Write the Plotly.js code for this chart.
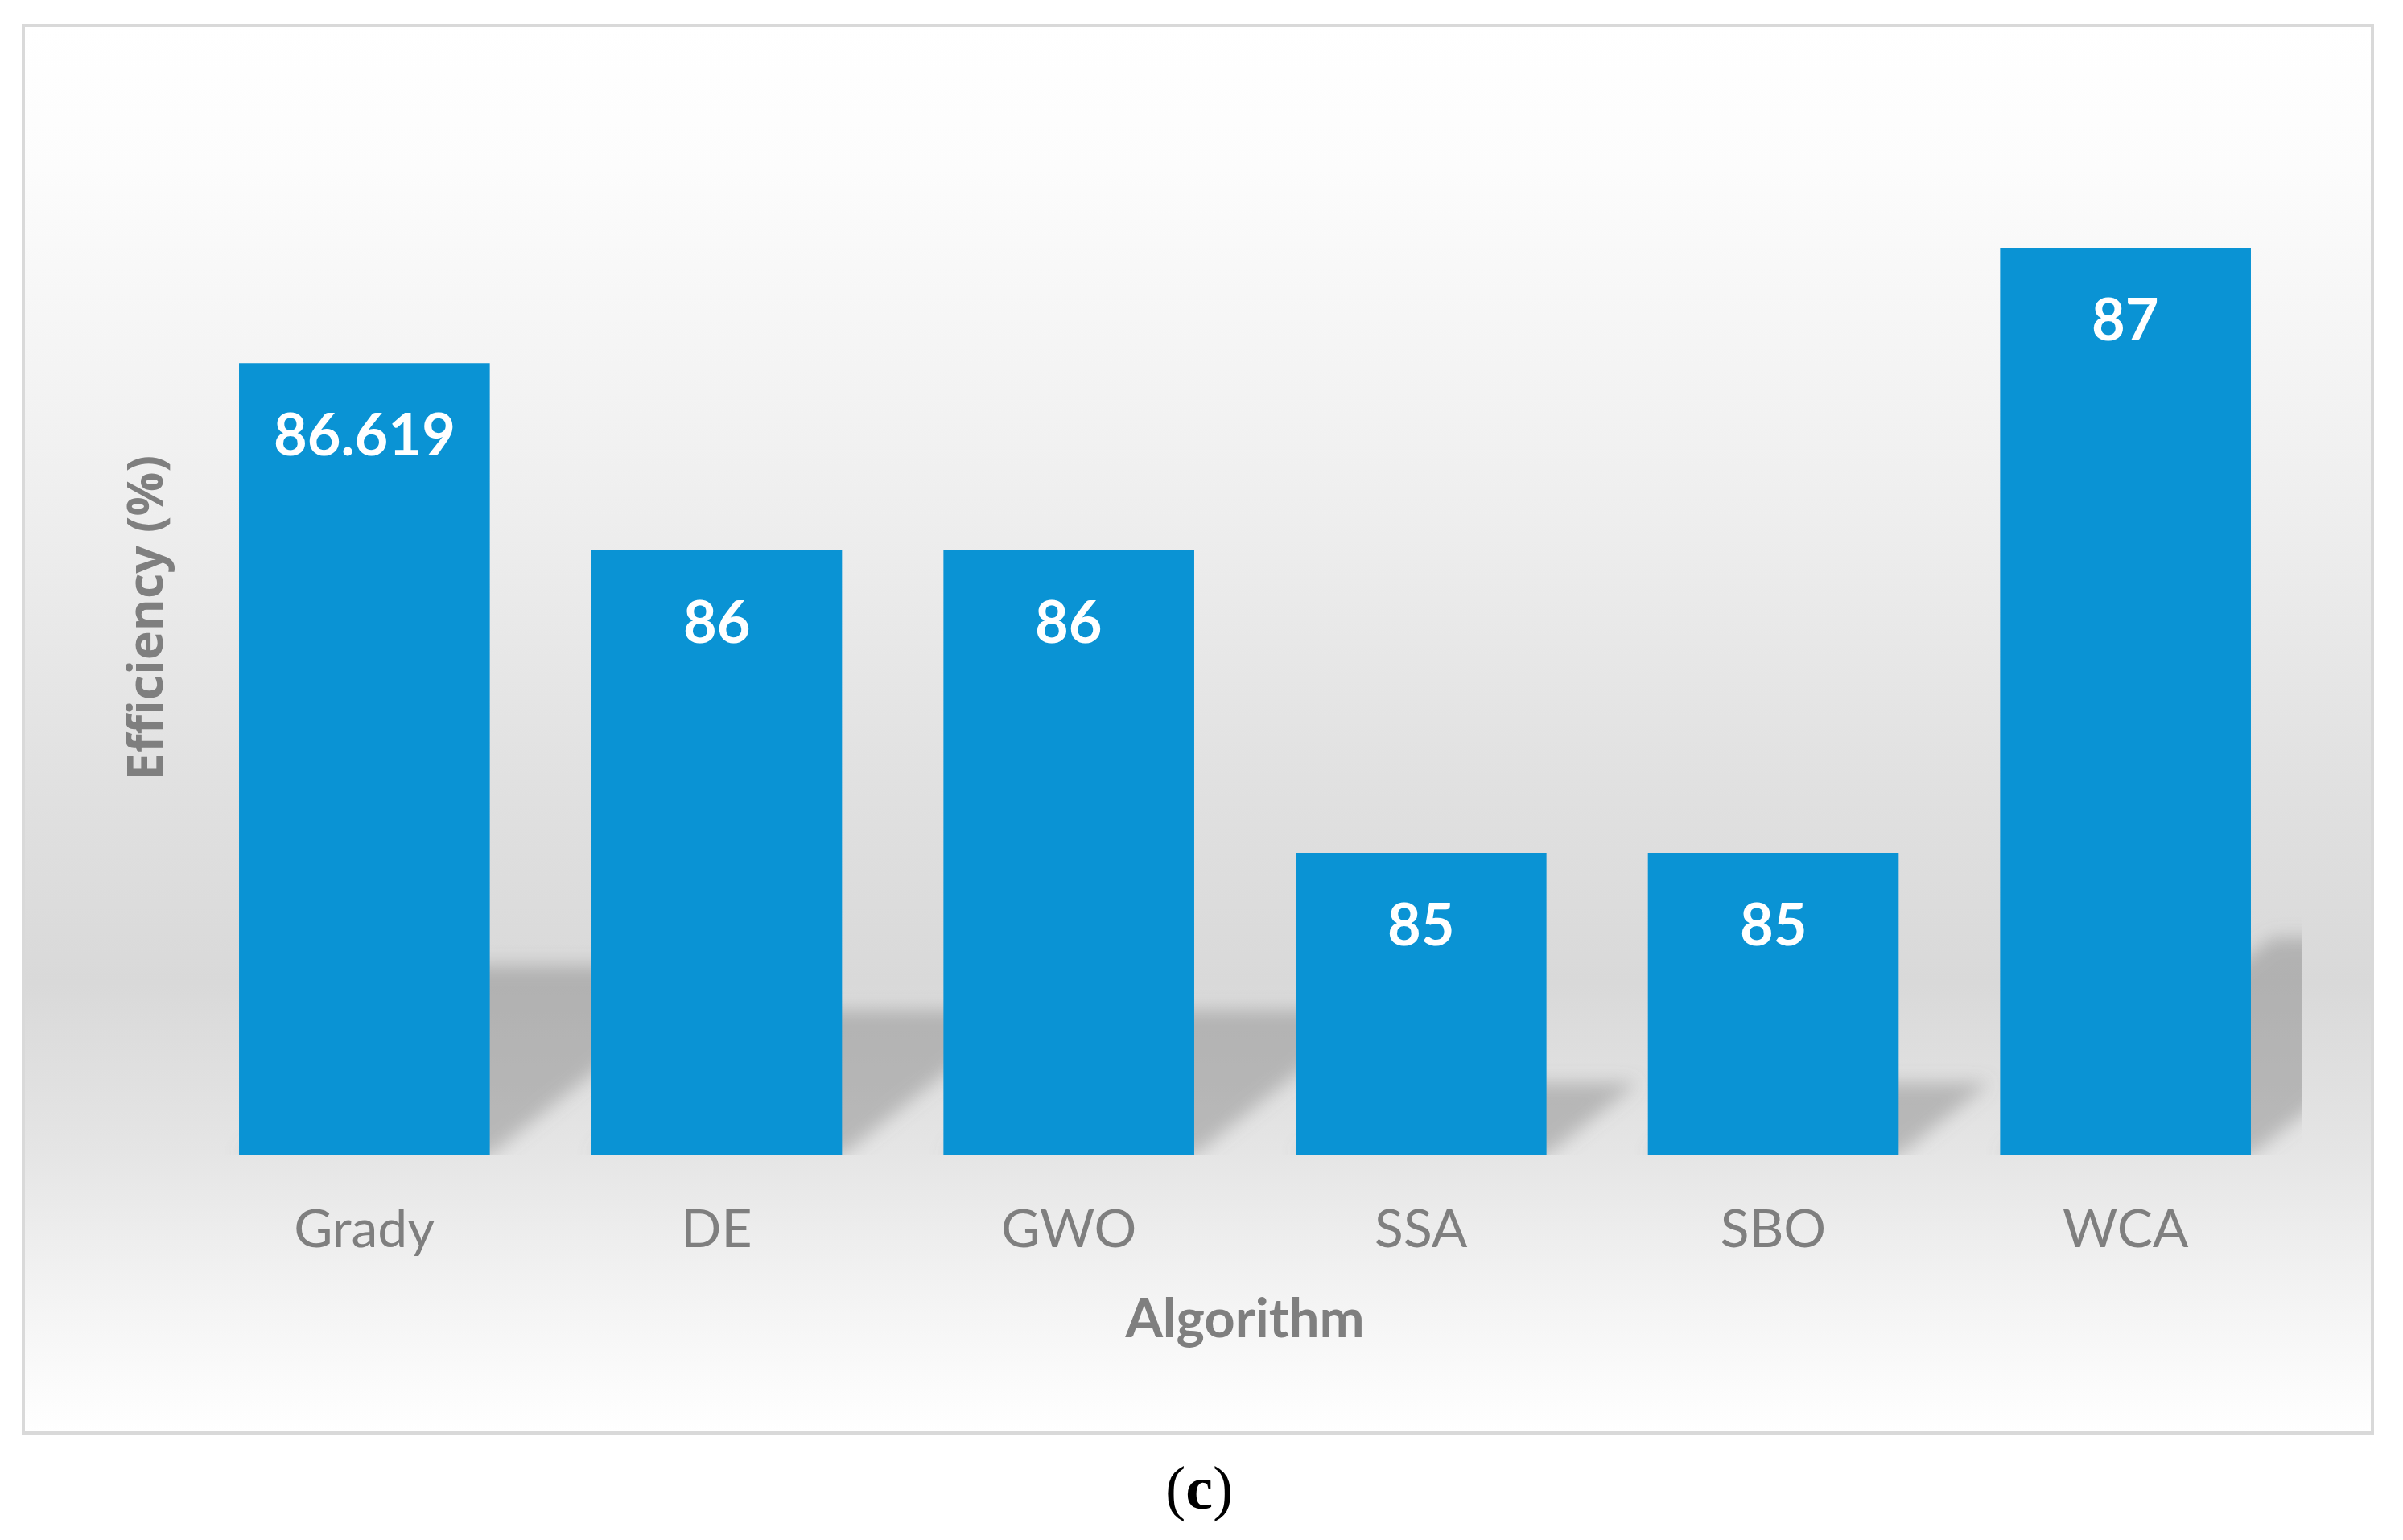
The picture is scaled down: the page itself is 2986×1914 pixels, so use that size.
<!DOCTYPE html>
<html>
<head>
<meta charset="utf-8">
<script src="https://cdn.plot.ly/plotly-3.0.1.min.js"></script>
<style>html,body{margin:0;padding:0;background:#ffffff;}</style>
</head>
<body>
<div id="chart" style="width:2986px;height:1914px;"></div>
<script>
// ---- data ----
const algorithms = ['Grady', 'DE', 'GWO', 'SSA', 'SBO', 'WCA'];
const efficiency = [86.619, 86, 86, 85, 85, 87];
const valueLabels = ['86.619', '86', '86', '85', '85', '87'];
const yAxisTitle = 'Efficiency (%)';
const xAxisTitle = 'Algorithm';
const captionText = '(<b>c</b>)';

// ---- layout geometry (pixels) ----
const W = 2986, H = 1914;
const M = {l: 234, r: 126, t: 100, b: 478};
const plotW = W - M.l - M.r, plotH = H - M.t - M.b;
const pxPerUnit = 376;
const yMin = 84, yMax = yMin + plotH / pxPerUnit;
const barGap = 0.288;
const px2x = px => (px - M.l) / plotW;
const py2y = py => (H - M.b - py) / plotH;
const frame = {x0: 29, y0: 32, x1: 2948, y1: 1781};
const svgURI = s => 'data:image/svg+xml;charset=utf-8,' + encodeURIComponent(s);

// background: soft vertical grey gradient inside the frame
const bgSvg = '<svg xmlns="http://www.w3.org/2000/svg" width="100" height="100" viewBox="0 0 100 100" preserveAspectRatio="none">' +
  '<defs><linearGradient id="g" x1="0" y1="0" x2="0" y2="1">' +
  '<stop offset="0" stop-color="#ffffff"/>' +
  '<stop offset="0.10" stop-color="#fcfcfc"/>' +
  '<stop offset="0.35" stop-color="#eeeeee"/>' +
  '<stop offset="0.55" stop-color="#e0e0e0"/>' +
  '<stop offset="0.68" stop-color="#d9d9d9"/>' +
  '<stop offset="0.80" stop-color="#e5e5e5"/>' +
  '<stop offset="0.90" stop-color="#f3f3f3"/>' +
  '<stop offset="1" stop-color="#ffffff"/>' +
  '</linearGradient></defs><rect x="0" y="0" width="100" height="100" fill="url(#g)"/></svg>';

// decorative perspective floor shadow behind each bar, derived from the data
function shadowSvg() {
  const band = plotW / algorithms.length;
  const hw = band * (1 - barGap) / 2;
  const k = 0.24, sh = 0.30;
  let polys = '';
  efficiency.forEach((v, i) => {
    const cx = (i + 0.5) * band;
    const h = (v - yMin) * pxPerUnit;
    const yb = plotH, yt = yb - k * h, dx = sh * h;
    const pts = [[cx - hw, yb], [cx + hw, yb], [cx + hw + dx, yt], [cx - hw + dx, yt]]
      .map(p => p[0].toFixed(1) + ',' + p[1].toFixed(1)).join(' ');
    polys += '<polygon points="' + pts + '"/>';
  });
  return '<svg xmlns="http://www.w3.org/2000/svg" width="' + plotW + '" height="' + plotH +
    '" viewBox="0 0 ' + plotW + ' ' + plotH + '" preserveAspectRatio="none">' +
    '<defs><filter id="b" x="-20%" y="-50%" width="140%" height="200%"><feGaussianBlur stdDeviation="11"/></filter></defs>' +
    '<g filter="url(#b)" fill="#7a7a7a" fill-opacity="0.42">' + polys + '</g></svg>';
}

const grey = '#7f7f7f';

const trace = {
  type: 'bar',
  x: algorithms,
  y: efficiency,
  marker: {color: '#0a93d4', line: {width: 0}},
  hoverinfo: 'skip',
  showlegend: false
};

const annotations = algorithms.map((a, i) => ({
  x: a, y: efficiency[i], xref: 'x', yref: 'y',
  text: valueLabels[i], showarrow: false,
  yanchor: 'top', xanchor: 'center', yshift: -42,
  font: {family: 'Lato', size: 72, color: '#ffffff', weight: 'bold'}
}));
annotations.push({
  xref: 'paper', yref: 'paper', x: px2x(1490), y: py2y(1849),
  xanchor: 'center', yanchor: 'middle', showarrow: false,
  text: captionText,
  font: {family: 'Liberation Serif', size: 76, color: '#000000'}
});

const layout = {
  width: W, height: H,
  margin: M,
  paper_bgcolor: '#ffffff',
  plot_bgcolor: 'rgba(0,0,0,0)',
  bargap: barGap,
  showlegend: false,
  xaxis: {
    type: 'category',
    showgrid: false, zeroline: false, showline: false, ticks: '',
    tickfont: {family: 'Lato', size: 66, color: grey},
    ticklabelstandoff: 47,
    automargin: false,
    title: {text: xAxisTitle, standoff: 52,
            font: {family: 'Lato', size: 67, color: grey, weight: 'bold'}}
  },
  yaxis: {
    range: [yMin, yMax],
    showgrid: false, zeroline: false, showline: false, ticks: '',
    showticklabels: false,
    automargin: false,
    title: {text: yAxisTitle, standoff: 10,
            font: {family: 'Open Sans', size: 61, color: grey, weight: 'bold'}}
  },
  images: [{
    source: svgURI(bgSvg),
    xref: 'paper', yref: 'paper',
    x: px2x(frame.x0), y: py2y(frame.y0),
    sizex: px2x(frame.x1) - px2x(frame.x0),
    sizey: py2y(frame.y0) - py2y(frame.y1),
    xanchor: 'left', yanchor: 'top',
    sizing: 'stretch', layer: 'below'
  }, {
    source: svgURI(shadowSvg()),
    xref: 'paper', yref: 'paper',
    x: 0, y: 1, sizex: 1, sizey: 1,
    xanchor: 'left', yanchor: 'top',
    sizing: 'stretch', layer: 'below'
  }],
  shapes: [{
    type: 'rect', xref: 'paper', yref: 'paper',
    x0: px2x(frame.x0), x1: px2x(frame.x1),
    y0: py2y(frame.y1), y1: py2y(frame.y0),
    line: {color: '#d9d9d9', width: 4},
    fillcolor: 'rgba(0,0,0,0)', layer: 'above'
  }],
  annotations: annotations
};

Plotly.newPlot('chart', [trace], layout, {displayModeBar: false, staticPlot: true});
</script>
</body>
</html>
